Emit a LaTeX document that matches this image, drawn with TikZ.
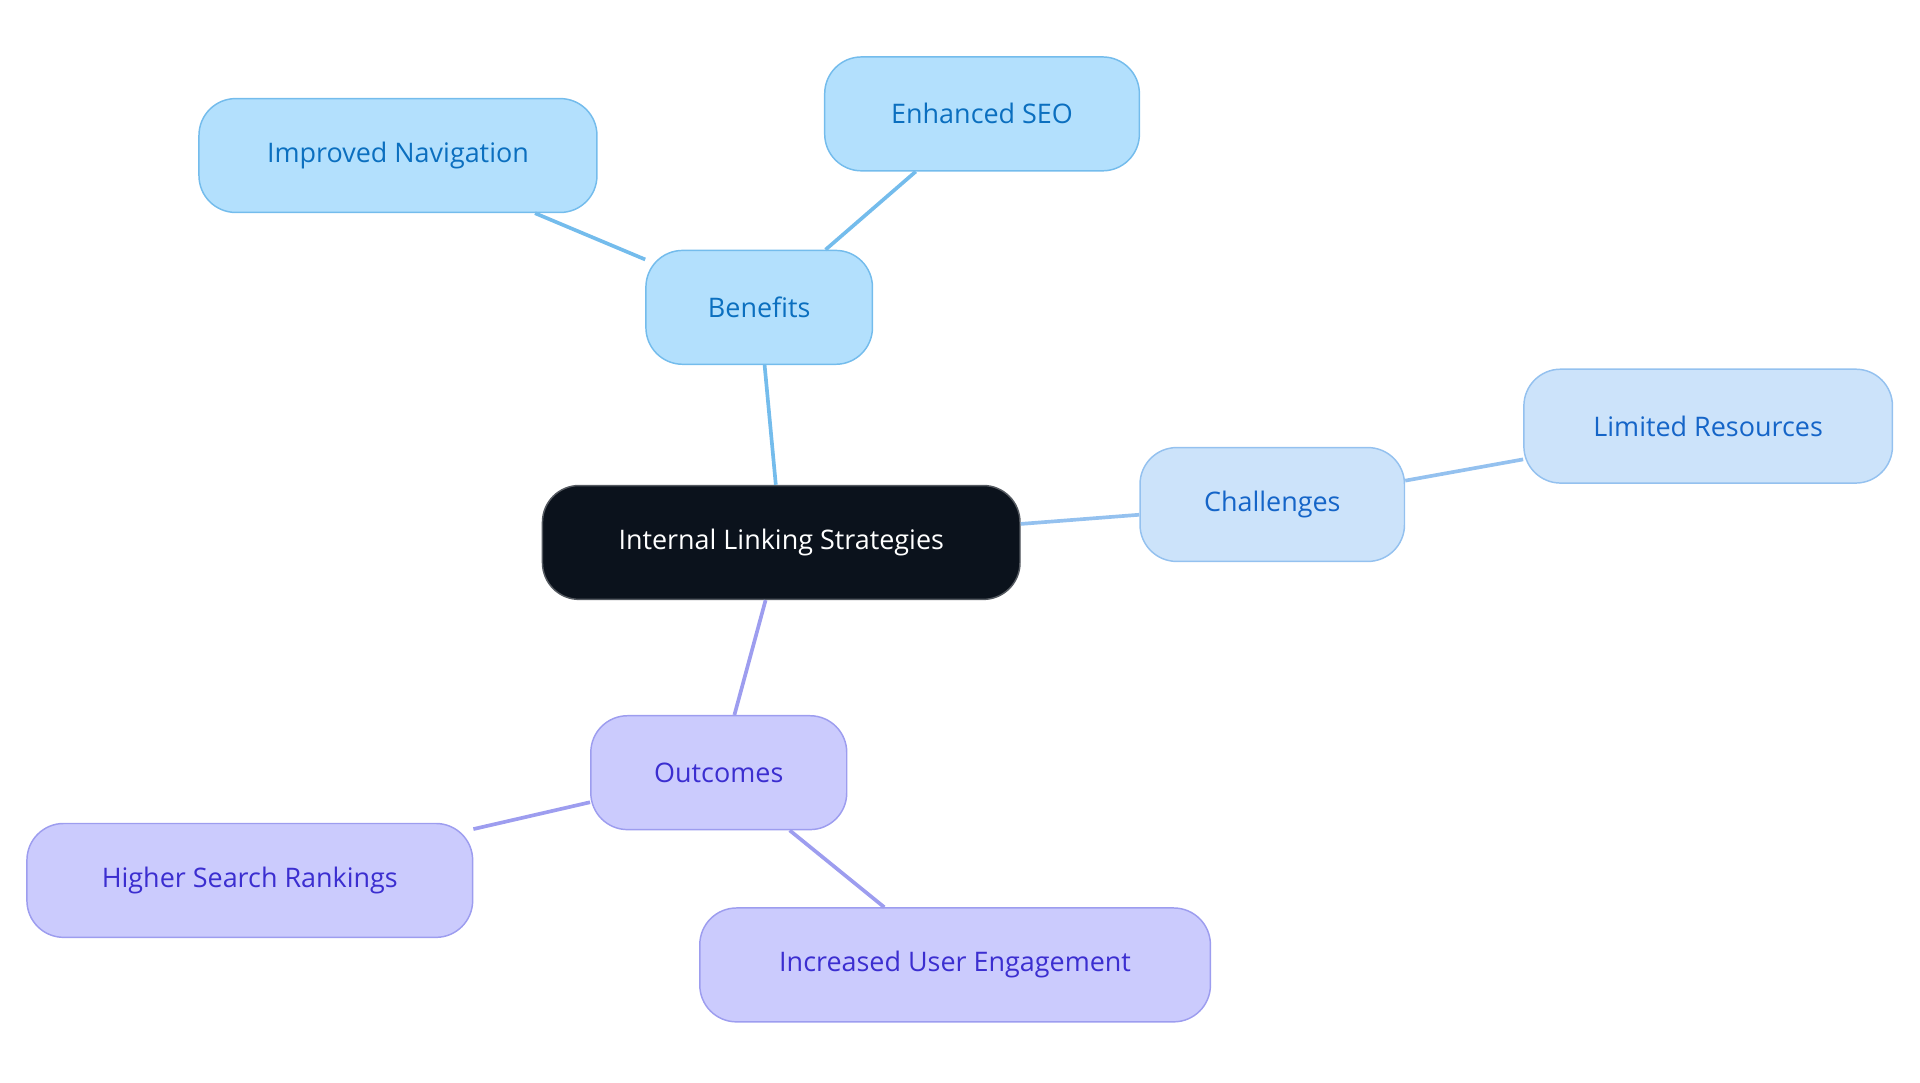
\documentclass[tikz,border=0pt]{standalone}
\usepackage{fontspec}
\setmainfont{Open Sans}
\definecolor{bfill}{HTML}{B3E0FD}\definecolor{bline}{HTML}{74BCEC}\definecolor{btext}{HTML}{0B6FBF}
\definecolor{cfill}{HTML}{CCE3FA}\definecolor{cline}{HTML}{94C1EF}\definecolor{ctext}{HTML}{1565C8}
\definecolor{ofill}{HTML}{CBCBFD}\definecolor{oline}{HTML}{9D9DEF}\definecolor{otext}{HTML}{3B2ED0}
\definecolor{dark}{HTML}{0B121C}
\begin{document}
\begin{tikzpicture}[x=1pt,y=-1pt,
  box/.style={rounded corners=30pt,minimum height=93pt,font=\fontsize{22}{26}\selectfont,line width=1.2pt,inner sep=0pt},
  bn/.style={box,fill=bfill,draw=bline,text=btext},
  cn/.style={box,fill=cfill,draw=cline,text=ctext},
  on/.style={box,fill=ofill,draw=oline,text=otext},
  be/.style={draw=bline,line width=3pt},
  ce/.style={draw=cline,line width=3pt},
  oe/.style={draw=oline,line width=3pt}]
\useasboundingbox (0,0) rectangle (1568,884);
\node[box,fill=dark,draw=dark!70,text=white,minimum width=390pt] (root) at (638,443) {Internal Linking Strategies};
\node[bn,minimum width=185pt] (ben) at (620,251) {Benefits};
\node[bn,minimum width=257pt] (seo) at (802,93) {Enhanced SEO};
\node[bn,minimum width=325pt] (nav) at (325,127) {Improved Navigation};
\node[cn,minimum width=216pt] (cha) at (1039,412) {Challenges};
\node[cn,minimum width=301pt] (lim) at (1395,348) {Limited Resources};
\node[on,minimum width=209pt] (out) at (587,631) {Outcomes};
\node[on,minimum width=364pt] (hsr) at (204,719) {Higher Search Rankings};
\node[on,minimum width=417pt] (iue) at (780,788) {Increased User Engagement};
\begin{scope}[on background layer/.style={}]
\end{scope}
\draw[be] (root) -- (ben);
\draw[be] (ben) -- (seo);
\draw[be] (ben) -- (nav);
\draw[ce] (root) -- (cha);
\draw[ce] (cha) -- (lim);
\draw[oe] (root) -- (out);
\draw[oe] (out) -- (hsr);
\draw[oe] (out) -- (iue);
\end{tikzpicture}
\end{document}
